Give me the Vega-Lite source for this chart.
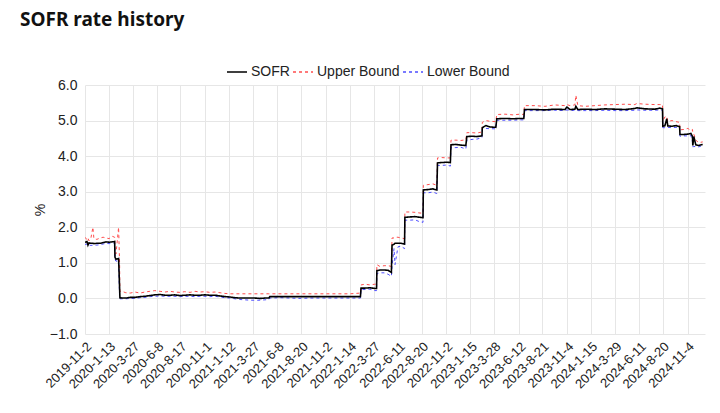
{
  "$schema": "https://vega.github.io/schema/vega-lite/v6.json",
  "width": 620,
  "height": 249,
  "autosize": "none",
  "padding": {"left": 85, "top": 85, "right": 15, "bottom": 79},
  "background": "white",
  "title": {
    "text": "SOFR rate history",
    "anchor": "start",
    "frame": "group",
    "dx": -65,
    "dy": -27,
    "font": "Noto Sans",
    "fontSize": 19,
    "fontWeight": "bold",
    "color": "#111111"
  },
  "config": {
    "view": {"stroke": null},
    "font": "Liberation Sans",
    "axis": {"labelFont": "Liberation Sans", "labelColor": "#222222", "titleFont": "Liberation Sans", "titleColor": "#222222", "gridColor": "#e6e6e6", "gridWidth": 1, "domain": false, "ticks": false}
  },
  "data": {
    "values": [
      {"date": "2019-11-02", "sofr": 1.58, "upper": 1.72, "lower": 1.52},
      {"date": "2019-11-08", "sofr": 1.6, "upper": 1.65, "lower": 1.53},
      {"date": "2019-11-11", "sofr": 1.5, "upper": 1.7, "lower": 1.48},
      {"date": "2019-11-14", "sofr": 1.56, "upper": 1.62, "lower": 1.5},
      {"date": "2019-11-20", "sofr": 1.55, "upper": 1.7, "lower": 1.49},
      {"date": "2019-11-26", "sofr": 1.55, "upper": 2.0, "lower": 1.5},
      {"date": "2019-11-29", "sofr": 1.54, "upper": 1.68, "lower": 1.49},
      {"date": "2019-12-08", "sofr": 1.55, "upper": 1.66, "lower": 1.5},
      {"date": "2019-12-18", "sofr": 1.55, "upper": 1.7, "lower": 1.51},
      {"date": "2019-12-27", "sofr": 1.57, "upper": 1.72, "lower": 1.53},
      {"date": "2020-01-05", "sofr": 1.59, "upper": 1.7, "lower": 1.55},
      {"date": "2020-01-14", "sofr": 1.58, "upper": 1.68, "lower": 1.54},
      {"date": "2020-01-23", "sofr": 1.59, "upper": 1.75, "lower": 1.55},
      {"date": "2020-01-31", "sofr": 1.6, "upper": 1.72, "lower": 1.56},
      {"date": "2020-02-01", "sofr": 1.16, "upper": 1.4, "lower": 1.1},
      {"date": "2020-02-04", "sofr": 1.1, "upper": 1.25, "lower": 1.05},
      {"date": "2020-02-12", "sofr": 1.12, "upper": 2.0, "lower": 1.05},
      {"date": "2020-02-15", "sofr": 0.3, "upper": 1.0, "lower": 0.0},
      {"date": "2020-02-16", "sofr": 0.02, "upper": 0.2, "lower": -0.01},
      {"date": "2020-02-22", "sofr": 0.01, "upper": 0.2, "lower": -0.01},
      {"date": "2020-03-05", "sofr": 0.01, "upper": 0.16, "lower": -0.01},
      {"date": "2020-03-18", "sofr": 0.03, "upper": 0.15, "lower": 0.0},
      {"date": "2020-04-02", "sofr": 0.03, "upper": 0.18, "lower": 0.0},
      {"date": "2020-04-17", "sofr": 0.05, "upper": 0.15, "lower": 0.02},
      {"date": "2020-05-02", "sofr": 0.06, "upper": 0.18, "lower": 0.03},
      {"date": "2020-05-17", "sofr": 0.08, "upper": 0.2, "lower": 0.05},
      {"date": "2020-06-01", "sofr": 0.1, "upper": 0.22, "lower": 0.06},
      {"date": "2020-06-17", "sofr": 0.11, "upper": 0.2, "lower": 0.07},
      {"date": "2020-07-02", "sofr": 0.09, "upper": 0.18, "lower": 0.06},
      {"date": "2020-07-17", "sofr": 0.09, "upper": 0.2, "lower": 0.06},
      {"date": "2020-08-01", "sofr": 0.1, "upper": 0.18, "lower": 0.06},
      {"date": "2020-08-16", "sofr": 0.08, "upper": 0.17, "lower": 0.05},
      {"date": "2020-08-31", "sofr": 0.09, "upper": 0.19, "lower": 0.06},
      {"date": "2020-09-16", "sofr": 0.1, "upper": 0.17, "lower": 0.06},
      {"date": "2020-10-01", "sofr": 0.09, "upper": 0.2, "lower": 0.05},
      {"date": "2020-10-16", "sofr": 0.09, "upper": 0.18, "lower": 0.06},
      {"date": "2020-10-31", "sofr": 0.1, "upper": 0.19, "lower": 0.06},
      {"date": "2020-11-15", "sofr": 0.09, "upper": 0.17, "lower": 0.05},
      {"date": "2020-12-01", "sofr": 0.09, "upper": 0.18, "lower": 0.06},
      {"date": "2020-12-16", "sofr": 0.07, "upper": 0.16, "lower": 0.04},
      {"date": "2020-12-31", "sofr": 0.05, "upper": 0.14, "lower": 0.02},
      {"date": "2021-01-15", "sofr": 0.04, "upper": 0.13, "lower": 0.01},
      {"date": "2021-01-30", "sofr": 0.02, "upper": 0.13, "lower": -0.01},
      {"date": "2021-02-14", "sofr": 0.01, "upper": 0.13, "lower": -0.03},
      {"date": "2021-03-02", "sofr": 0.01, "upper": 0.13, "lower": -0.04},
      {"date": "2021-03-17", "sofr": 0.01, "upper": 0.13, "lower": -0.05},
      {"date": "2021-04-01", "sofr": 0.01, "upper": 0.13, "lower": -0.05},
      {"date": "2021-04-16", "sofr": 0.0, "upper": 0.13, "lower": -0.05},
      {"date": "2021-05-01", "sofr": 0.01, "upper": 0.13, "lower": -0.04},
      {"date": "2021-05-13", "sofr": 0.01, "upper": 0.13, "lower": -0.03},
      {"date": "2021-05-16", "sofr": 0.05, "upper": 0.13, "lower": 0.01},
      {"date": "2021-06-16", "sofr": 0.05, "upper": 0.13, "lower": 0.02},
      {"date": "2021-07-16", "sofr": 0.05, "upper": 0.13, "lower": 0.01},
      {"date": "2021-08-16", "sofr": 0.05, "upper": 0.13, "lower": 0.0},
      {"date": "2021-09-15", "sofr": 0.05, "upper": 0.13, "lower": 0.01},
      {"date": "2021-10-15", "sofr": 0.05, "upper": 0.13, "lower": 0.01},
      {"date": "2021-11-15", "sofr": 0.05, "upper": 0.13, "lower": 0.01},
      {"date": "2021-12-15", "sofr": 0.05, "upper": 0.13, "lower": 0.01},
      {"date": "2022-01-14", "sofr": 0.05, "upper": 0.13, "lower": 0.01},
      {"date": "2022-02-15", "sofr": 0.05, "upper": 0.15, "lower": 0.01},
      {"date": "2022-02-17", "sofr": 0.29, "upper": 0.38, "lower": 0.25},
      {"date": "2022-03-01", "sofr": 0.29, "upper": 0.4, "lower": 0.25},
      {"date": "2022-03-16", "sofr": 0.3, "upper": 0.38, "lower": 0.26},
      {"date": "2022-03-31", "sofr": 0.28, "upper": 0.4, "lower": 0.22},
      {"date": "2022-04-05", "sofr": 0.28, "upper": 0.4, "lower": 0.22},
      {"date": "2022-04-06", "sofr": 0.78, "upper": 0.95, "lower": 0.7},
      {"date": "2022-04-15", "sofr": 0.8, "upper": 0.9, "lower": 0.72},
      {"date": "2022-04-28", "sofr": 0.8, "upper": 0.92, "lower": 0.72},
      {"date": "2022-05-10", "sofr": 0.79, "upper": 0.92, "lower": 0.68},
      {"date": "2022-05-20", "sofr": 0.73, "upper": 0.9, "lower": 0.62},
      {"date": "2022-05-22", "sofr": 1.5, "upper": 1.7, "lower": 0.9},
      {"date": "2022-05-28", "sofr": 1.52, "upper": 1.7, "lower": 1.4},
      {"date": "2022-05-31", "sofr": 1.55, "upper": 1.72, "lower": 0.95},
      {"date": "2022-06-09", "sofr": 1.55, "upper": 1.72, "lower": 1.45},
      {"date": "2022-06-18", "sofr": 1.55, "upper": 1.7, "lower": 1.47},
      {"date": "2022-06-29", "sofr": 1.53, "upper": 1.68, "lower": 1.4},
      {"date": "2022-06-30", "sofr": 2.28, "upper": 2.43, "lower": 2.2},
      {"date": "2022-07-15", "sofr": 2.29, "upper": 2.43, "lower": 2.2},
      {"date": "2022-07-31", "sofr": 2.3, "upper": 2.42, "lower": 2.21},
      {"date": "2022-08-15", "sofr": 2.28, "upper": 2.4, "lower": 2.15},
      {"date": "2022-08-24", "sofr": 2.27, "upper": 2.4, "lower": 2.14},
      {"date": "2022-08-25", "sofr": 3.05, "upper": 3.18, "lower": 2.97},
      {"date": "2022-09-08", "sofr": 3.06, "upper": 3.2, "lower": 2.97},
      {"date": "2022-09-23", "sofr": 3.08, "upper": 3.22, "lower": 2.99},
      {"date": "2022-10-05", "sofr": 3.05, "upper": 3.18, "lower": 2.95},
      {"date": "2022-10-07", "sofr": 3.81, "upper": 3.95, "lower": 3.74},
      {"date": "2022-10-20", "sofr": 3.82, "upper": 3.96, "lower": 3.74},
      {"date": "2022-11-05", "sofr": 3.83, "upper": 3.95, "lower": 3.75},
      {"date": "2022-11-15", "sofr": 3.82, "upper": 3.95, "lower": 3.72},
      {"date": "2022-11-17", "sofr": 4.32, "upper": 4.45, "lower": 4.24},
      {"date": "2022-12-02", "sofr": 4.33, "upper": 4.45, "lower": 4.24},
      {"date": "2022-12-17", "sofr": 4.31, "upper": 4.44, "lower": 4.25},
      {"date": "2023-01-01", "sofr": 4.3, "upper": 4.46, "lower": 4.2},
      {"date": "2023-01-04", "sofr": 4.55, "upper": 4.66, "lower": 4.45},
      {"date": "2023-01-20", "sofr": 4.56, "upper": 4.66, "lower": 4.47},
      {"date": "2023-02-04", "sofr": 4.55, "upper": 4.65, "lower": 4.48},
      {"date": "2023-02-19", "sofr": 4.57, "upper": 4.68, "lower": 4.52},
      {"date": "2023-02-20", "sofr": 4.8, "upper": 4.95, "lower": 4.76},
      {"date": "2023-03-03", "sofr": 4.86, "upper": 5.0, "lower": 4.78},
      {"date": "2023-03-15", "sofr": 4.82, "upper": 4.98, "lower": 4.77},
      {"date": "2023-04-02", "sofr": 4.81, "upper": 4.97, "lower": 4.77},
      {"date": "2023-04-05", "sofr": 5.05, "upper": 5.17, "lower": 5.01},
      {"date": "2023-04-30", "sofr": 5.06, "upper": 5.18, "lower": 5.01},
      {"date": "2023-05-24", "sofr": 5.05, "upper": 5.16, "lower": 5.01},
      {"date": "2023-06-14", "sofr": 5.06, "upper": 5.18, "lower": 5.02},
      {"date": "2023-06-26", "sofr": 5.06, "upper": 5.17, "lower": 5.02},
      {"date": "2023-06-28", "sofr": 5.31, "upper": 5.42, "lower": 5.28},
      {"date": "2023-07-30", "sofr": 5.31, "upper": 5.42, "lower": 5.28},
      {"date": "2023-08-29", "sofr": 5.3, "upper": 5.4, "lower": 5.28},
      {"date": "2023-09-28", "sofr": 5.32, "upper": 5.44, "lower": 5.29},
      {"date": "2023-10-29", "sofr": 5.31, "upper": 5.42, "lower": 5.28},
      {"date": "2023-11-04", "sofr": 5.38, "upper": 5.45, "lower": 5.3},
      {"date": "2023-11-13", "sofr": 5.31, "upper": 5.42, "lower": 5.28},
      {"date": "2023-11-28", "sofr": 5.32, "upper": 5.44, "lower": 5.29},
      {"date": "2023-12-01", "sofr": 5.4, "upper": 5.71, "lower": 5.3},
      {"date": "2023-12-07", "sofr": 5.31, "upper": 5.42, "lower": 5.28},
      {"date": "2023-12-29", "sofr": 5.32, "upper": 5.4, "lower": 5.28},
      {"date": "2024-01-28", "sofr": 5.31, "upper": 5.42, "lower": 5.28},
      {"date": "2024-02-27", "sofr": 5.33, "upper": 5.44, "lower": 5.29},
      {"date": "2024-03-29", "sofr": 5.32, "upper": 5.45, "lower": 5.28},
      {"date": "2024-04-28", "sofr": 5.31, "upper": 5.46, "lower": 5.28},
      {"date": "2024-05-28", "sofr": 5.34, "upper": 5.45, "lower": 5.29},
      {"date": "2024-06-03", "sofr": 5.36, "upper": 5.48, "lower": 5.3},
      {"date": "2024-06-28", "sofr": 5.33, "upper": 5.46, "lower": 5.29},
      {"date": "2024-07-28", "sofr": 5.32, "upper": 5.45, "lower": 5.29},
      {"date": "2024-08-12", "sofr": 5.35, "upper": 5.45, "lower": 5.3},
      {"date": "2024-08-20", "sofr": 5.33, "upper": 5.45, "lower": 5.29},
      {"date": "2024-08-21", "sofr": 4.84, "upper": 4.98, "lower": 4.8},
      {"date": "2024-08-27", "sofr": 4.85, "upper": 5.1, "lower": 4.8},
      {"date": "2024-09-02", "sofr": 5.05, "upper": 5.12, "lower": 4.82},
      {"date": "2024-09-05", "sofr": 4.85, "upper": 4.98, "lower": 4.81},
      {"date": "2024-09-18", "sofr": 4.84, "upper": 5.0, "lower": 4.8},
      {"date": "2024-09-30", "sofr": 4.86, "upper": 4.97, "lower": 4.81},
      {"date": "2024-10-11", "sofr": 4.83, "upper": 4.95, "lower": 4.79},
      {"date": "2024-10-12", "sofr": 4.61, "upper": 4.74, "lower": 4.56},
      {"date": "2024-10-24", "sofr": 4.61, "upper": 4.75, "lower": 4.57},
      {"date": "2024-11-05", "sofr": 4.62, "upper": 4.78, "lower": 4.57},
      {"date": "2024-11-14", "sofr": 4.64, "upper": 4.72, "lower": 4.58},
      {"date": "2024-11-19", "sofr": 4.55, "upper": 4.75, "lower": 4.4},
      {"date": "2024-11-20", "sofr": 4.3, "upper": 4.65, "lower": 4.26},
      {"date": "2024-11-23", "sofr": 4.55, "upper": 4.62, "lower": 4.27},
      {"date": "2024-11-29", "sofr": 4.32, "upper": 4.45, "lower": 4.27},
      {"date": "2024-12-08", "sofr": 4.3, "upper": 4.38, "lower": 4.26},
      {"date": "2024-12-20", "sofr": 4.33, "upper": 4.4, "lower": 4.3}
    ]
  },
  "transform": [
    {"fold": ["sofr", "upper", "lower"], "as": ["series", "value"]}
  ],
  "encoding": {
    "x": {
      "field": "date",
      "type": "temporal",
      "title": null,
      "scale": {
        "type": "utc",
        "domain": [
          {"year": 2019, "month": 11, "date": 2, "utc": true},
          {"year": 2024, "month": 12, "date": 27, "utc": true}
        ]
      },
      "axis": {
        "labelExpr": "utcFormat(datum.value, '%Y-%-m-%-d')",
        "labelAngle": -45,
        "labelAlign": "right",
        "labelBaseline": "middle",
        "labelFontSize": 13,
        "labelPadding": 10,
        "labelOffset": 4,
        "labelOverlap": false,
        "labelBound": false,
        "grid": true,
        "values": [
          {"year": 2019, "month": 11, "date": 2, "utc": true},
          {"year": 2020, "month": 1, "date": 13, "utc": true},
          {"year": 2020, "month": 3, "date": 27, "utc": true},
          {"year": 2020, "month": 6, "date": 8, "utc": true},
          {"year": 2020, "month": 8, "date": 17, "utc": true},
          {"year": 2020, "month": 11, "date": 1, "utc": true},
          {"year": 2021, "month": 1, "date": 12, "utc": true},
          {"year": 2021, "month": 3, "date": 27, "utc": true},
          {"year": 2021, "month": 6, "date": 8, "utc": true},
          {"year": 2021, "month": 8, "date": 20, "utc": true},
          {"year": 2021, "month": 11, "date": 2, "utc": true},
          {"year": 2022, "month": 1, "date": 14, "utc": true},
          {"year": 2022, "month": 3, "date": 27, "utc": true},
          {"year": 2022, "month": 6, "date": 11, "utc": true},
          {"year": 2022, "month": 8, "date": 20, "utc": true},
          {"year": 2022, "month": 11, "date": 2, "utc": true},
          {"year": 2023, "month": 1, "date": 15, "utc": true},
          {"year": 2023, "month": 3, "date": 28, "utc": true},
          {"year": 2023, "month": 6, "date": 12, "utc": true},
          {"year": 2023, "month": 8, "date": 21, "utc": true},
          {"year": 2023, "month": 11, "date": 4, "utc": true},
          {"year": 2024, "month": 1, "date": 15, "utc": true},
          {"year": 2024, "month": 3, "date": 29, "utc": true},
          {"year": 2024, "month": 6, "date": 11, "utc": true},
          {"year": 2024, "month": 8, "date": 20, "utc": true},
          {"year": 2024, "month": 11, "date": 4, "utc": true}
        ]
      }
    },
    "y": {
      "field": "value",
      "type": "quantitative",
      "title": "%",
      "scale": {"domain": [-1, 6], "nice": false, "zero": false},
      "axis": {
        "values": [-1, 0, 1, 2, 3, 4, 5, 6],
        "format": ".1f",
        "labelFontSize": 14,
        "labelPadding": 8,
        "titleFontSize": 14,
        "titleFontWeight": "normal",
        "titlePadding": 2,
        "grid": true
      }
    },
    "color": {
      "field": "series",
      "type": "nominal",
      "scale": {"domain": ["sofr", "upper", "lower"], "range": ["#000000", "#ff4d4d", "#4d4dff"]},
      "legend": {
        "title": null,
        "orient": "none",
        "direction": "horizontal",
        "legendX": 141,
        "legendY": -24,
        "symbolType": "stroke",
        "symbolSize": 400,
        "symbolStrokeWidth": 1.5,
        "labelFont": "Liberation Sans",
        "labelFontSize": 14,
        "labelColor": "#222222",
        "labelOffset": 3,
        "columnPadding": 0,
        "labelExpr": "datum.label == 'sofr' ? 'SOFR' : datum.label == 'upper' ? 'Upper Bound' : 'Lower Bound'"
      }
    },
    "strokeDash": {
      "field": "series",
      "type": "nominal",
      "scale": {"domain": ["sofr", "upper", "lower"], "range": [[1, 0], [3, 3], [3, 3]]},
      "legend": {
        "title": null,
        "orient": "none",
        "direction": "horizontal",
        "legendX": 141,
        "legendY": -24,
        "symbolType": "stroke",
        "symbolSize": 400,
        "symbolStrokeWidth": 1.5,
        "labelFont": "Liberation Sans",
        "labelFontSize": 14,
        "labelColor": "#222222",
        "labelOffset": 3,
        "columnPadding": 0,
        "labelExpr": "datum.label == 'sofr' ? 'SOFR' : datum.label == 'upper' ? 'Upper Bound' : 'Lower Bound'"
      }
    }
  },
  "layer": [
    {
      "transform": [{"filter": "datum.series != 'sofr'"}],
      "mark": {"type": "line", "strokeWidth": 1, "clip": true}
    },
    {
      "transform": [{"filter": "datum.series == 'sofr'"}],
      "mark": {"type": "line", "strokeWidth": 1.6, "clip": true}
    }
  ]
}
